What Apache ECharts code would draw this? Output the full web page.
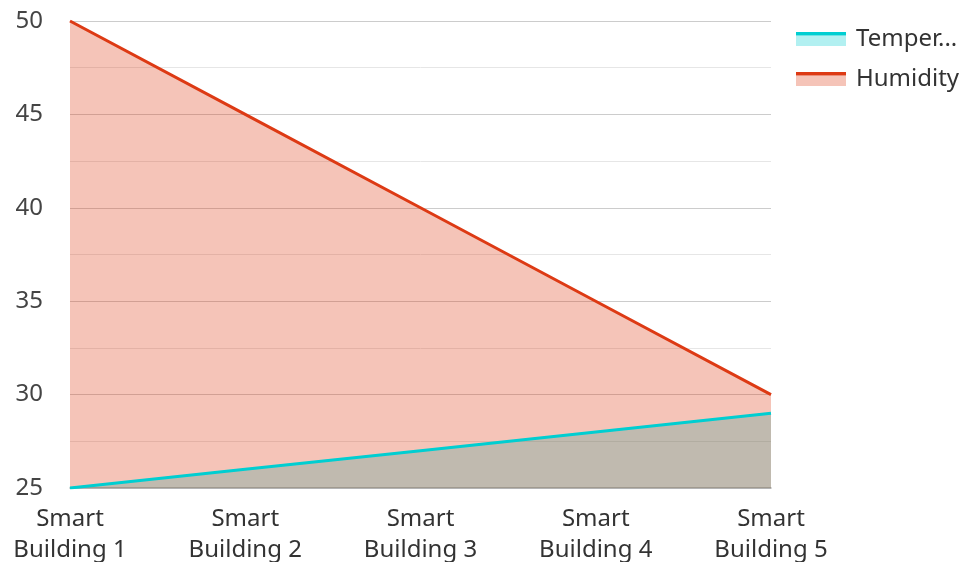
<!DOCTYPE html>
<html><head><meta charset="utf-8">
<script src="https://cdn.jsdelivr.net/npm/echarts@6/dist/echarts.min.js"></script>
<style>html,body{margin:0;padding:0;background:#fff}#c{width:965px;height:562px}</style>
</head><body><div id="c"></div>
<script>
const categories = ['Smart\nBuilding 1','Smart\nBuilding 2','Smart\nBuilding 3','Smart\nBuilding 4','Smart\nBuilding 5'];
const temperature = [25, 26, 27, 28, 29];
const humidity = [50, 45, 40, 35, 30];
const seriesNames = ['Temperature', 'Humidity'];
const lineColors = ['#00CED1', '#DD3A14'];
const areaColors = ['rgba(0,206,209,0.3)', 'rgba(221,58,20,0.3)'];

const lineIcon = 'path://M0,0L50,0L50,3.5L0,3.5ZM0,14L50,14';
const areaIcon = 'path://M0,3.5L50,3.5L50,14L0,14ZM0,0L50,0';
const legendBase = {
  orient:'vertical', left:791, top:22, itemWidth:50, itemHeight:14, itemGap:16,
  selectedMode:false
};
const chart = echarts.init(document.getElementById('c'), null, {renderer:'canvas'});
chart.setOption({
  animation:false,
  textStyle:{fontFamily:'Noto Sans'},
  grid:{left:70,right:194,top:21,bottom:74,containLabel:false,outerBoundsMode:'none'},
  legend:[
    Object.assign({}, legendBase, {
      textStyle:{fontSize:24,color:'rgba(0,0,0,0)',fontFamily:'Noto Sans',padding:[0,0,0,5]},
      data:seriesNames.map((n,i)=>({name:n, icon:areaIcon, itemStyle:{color:areaColors[i]},
        textStyle: i===0 ? {width:116, overflow:'truncate'} : {}}))
    }),
    Object.assign({}, legendBase, {
      textStyle:{fontSize:24,color:'#333',fontFamily:'Noto Sans',padding:[0,0,0,5]},
      data:seriesNames.map((n,i)=>({name:n, icon:lineIcon, itemStyle:{color:lineColors[i]},
        textStyle: i===0 ? {width:116, overflow:'truncate'} : {}}))
    })
  ],
  xAxis:{
    type:'category', data:categories, boundaryGap:false,
    axisLine:{lineStyle:{color:'#aaa',width:1.5}}, axisTick:{show:false},
    axisLabel:{fontSize:24,color:'#333',margin:16,lineHeight:31,fontFamily:'Noto Sans',interval:0}
  },
  yAxis:{
    type:'value', min:25, max:50, interval:5,
    axisLine:{show:false}, axisTick:{show:false},
    axisLabel:{fontSize:24,color:'#444',margin:27,fontFamily:'Noto Sans'},
    splitLine:{lineStyle:{color:'#ccc',width:1.2}},
    minorTick:{show:false, splitNumber:2},
    minorSplitLine:{show:true,lineStyle:{color:'#e6e6e6',width:1}}
  },
  series:[
    {name:seriesNames[0], type:'line', data:temperature, symbol:'none',
     lineStyle:{color:lineColors[0],width:3}, itemStyle:{color:lineColors[0]},
     areaStyle:{color:lineColors[0],opacity:0.3}},
    {name:seriesNames[1], type:'line', data:humidity, symbol:'none',
     lineStyle:{color:lineColors[1],width:3}, itemStyle:{color:lineColors[1]},
     areaStyle:{color:lineColors[1],opacity:0.3}}
  ]
});
</script></body></html>
